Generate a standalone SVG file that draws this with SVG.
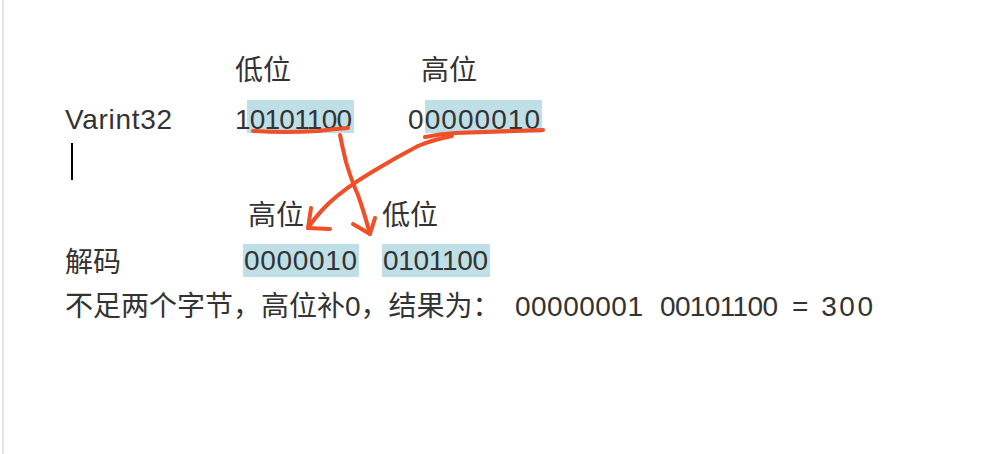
<svg xmlns="http://www.w3.org/2000/svg" width="1002" height="454" viewBox="0 0 1002 454">
  <style>
    .t { font-family: "Liberation Sans", "Noto Sans CJK SC", sans-serif; font-size: 28px; fill: #333333; }
    .hl { fill: #bfdfe6; }
    .red { fill: none; stroke: #f04f27; stroke-width: 4; stroke-linecap: round; stroke-linejoin: round; }
  </style>
  <rect x="0" y="0" width="1002" height="454" fill="#ffffff"/>
  <line x1="3" y1="0" x2="3" y2="454" stroke="#e3e3e8" stroke-width="2"/>

  <g id="label-low-1"><text class="t" x="235" y="80">低位</text></g>
  <g id="label-high-1"><text class="t" x="421" y="80">高位</text></g>

  <g id="varint-label"><text class="t" x="65" y="129" textLength="107" lengthAdjust="spacing">Varint32</text></g>
  <g id="byte-1">
    <rect class="hl" x="247" y="100" width="107" height="33"/>
    <text class="t" x="235" y="129" textLength="117" lengthAdjust="spacing">10101100</text>
  </g>
  <g id="byte-2">
    <rect class="hl" x="425" y="100" width="117" height="33"/>
    <text class="t" x="408" y="129" textLength="132" lengthAdjust="spacing">00000010</text>
  </g>

  <g id="caret"><line x1="72" y1="143" x2="72" y2="180" stroke="#000000" stroke-width="2"/></g>

  <g id="label-high-2"><text class="t" x="248" y="225">高位</text></g>
  <g id="label-low-2"><text class="t" x="382" y="225">低位</text></g>

  <g id="decode-label"><text class="t" x="65" y="272">解码</text></g>
  <g id="decoded-high">
    <rect class="hl" x="243" y="244" width="116" height="33"/>
    <text class="t" x="244" y="270" textLength="113" lengthAdjust="spacing">0000010</text>
  </g>
  <g id="decoded-low">
    <rect class="hl" x="382" y="244" width="108" height="33"/>
    <text class="t" x="383" y="270" textLength="105" lengthAdjust="spacing">0101100</text>
  </g>

  <g id="result">
    <text class="t" y="316"><tspan x="65">不足两个字节，高位补0，结果为：</tspan><tspan x="515" textLength="128" lengthAdjust="spacing">00000001</tspan><tspan x="660" textLength="118" lengthAdjust="spacing">00101100</tspan><tspan x="792" textLength="81" lengthAdjust="spacing">= 300</tspan></text>
  </g>

  <g id="connectors">
    <path class="red" d="M253,131 Q285,133 318,131 Q333,129 348,128"/>
    <path class="red" d="M425,137 Q440,134 455,133 L543,130"/>
    <path class="red" d="M340,135 Q343,150 346,162 Q352,182 358,195 Q364,212 370,234"/>
    <path class="red" d="M353,224 L370,234 L375,218"/>
    <path class="red" d="M452,136 Q432,140 418,146 Q395,158 372,172 Q345,188 328,204 Q316,216 308,228"/>
    <path class="red" d="M311,208 L308,228 L330,229"/>
  </g>
</svg>
